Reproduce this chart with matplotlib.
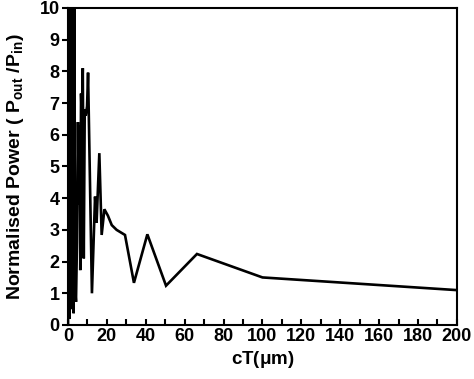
import numpy as np
import matplotlib.pyplot as plt
from matplotlib.ticker import MultipleLocator

plt.rcParams['font.family'] = 'Liberation Sans'
plt.rcParams['font.weight'] = 'bold'
plt.rcParams['mathtext.fontset'] = 'custom'
plt.rcParams['mathtext.rm'] = 'Liberation Sans:bold'
plt.rcParams['mathtext.it'] = 'Liberation Sans:bold'
plt.rcParams['mathtext.bf'] = 'Liberation Sans:bold'

# cT (um) and normalised power
ct = [0.0, 0.1, 0.2, 0.3, 0.4, 0.5, 0.6, 0.7, 0.8, 0.9, 1.0, 1.1, 1.2, 1.3, 1.4,
      1.5, 1.6, 1.7, 1.8, 1.9, 2.0, 2.1, 2.2, 2.3, 2.4, 2.5, 2.6, 2.7, 2.8, 2.9,
      3.1, 3.3, 3.6, 4.1, 4.6, 5.1, 5.6, 6.0, 6.3, 6.7, 7.1, 7.6, 8.1, 8.6, 9.1,
      9.8, 10.3, 12.3, 13.9, 14.7, 16.1, 17.3, 18.7, 20.5, 22.5, 25.0, 29.3,
      33.9, 40.8, 50.4, 66.3, 100.0, 200.0]
power = [0.0, 12.0, 0.3, 14.0, 0.5, 11.0, 1.2, 13.0, 0.2, 12.0, 2.5, 11.0, 0.8,
         10.5, 3.5, 12.0, 1.0, 11.0, 4.5, 10.8, 0.5, 10.2, 1.8, 11.5, 0.9, 10.6,
         3.0, 11.2, 0.6, 0.37, 10.8, 10.5, 1.2, 0.73, 2.6, 6.4, 3.8, 6.3, 1.73,
         7.3, 6.5, 8.1, 2.1, 6.8, 6.6, 6.9, 7.96, 1.0, 4.05, 3.23, 5.42, 2.84,
         3.65, 3.45, 3.15, 3.0, 2.84, 1.33, 2.86, 1.24, 2.24, 1.5, 1.1]

fig = plt.figure(figsize=(4.74, 3.79), dpi=100)
ax = fig.add_axes([0.1435, 0.1425, 0.8205, 0.8365])

ax.plot(ct, power, color='black', linewidth=1.9, solid_joinstyle='miter')

ax.set_xlim(0, 200)
ax.set_ylim(0, 10)
ax.xaxis.set_major_locator(MultipleLocator(20))
ax.xaxis.set_minor_locator(MultipleLocator(10))
ax.yaxis.set_major_locator(MultipleLocator(1))
ax.tick_params(axis='x', which='both', direction='in', length=4, width=1.5,
               labelsize=13, pad=2)
ax.tick_params(axis='y', which='both', direction='out', length=4, width=1.5,
               labelsize=13, pad=2)
for s in ax.spines.values():
    s.set_linewidth(1.5)

ax.set_xlabel(r'cT($\mu$m)', fontsize=13.5, fontweight='bold', labelpad=3)
ax.set_ylabel(r'Normalised Power ( P$_{\rm out}$ /P$_{\rm in}$)', fontsize=14,
              fontweight='bold', labelpad=10)

fig.savefig('out.png', dpi=100)
